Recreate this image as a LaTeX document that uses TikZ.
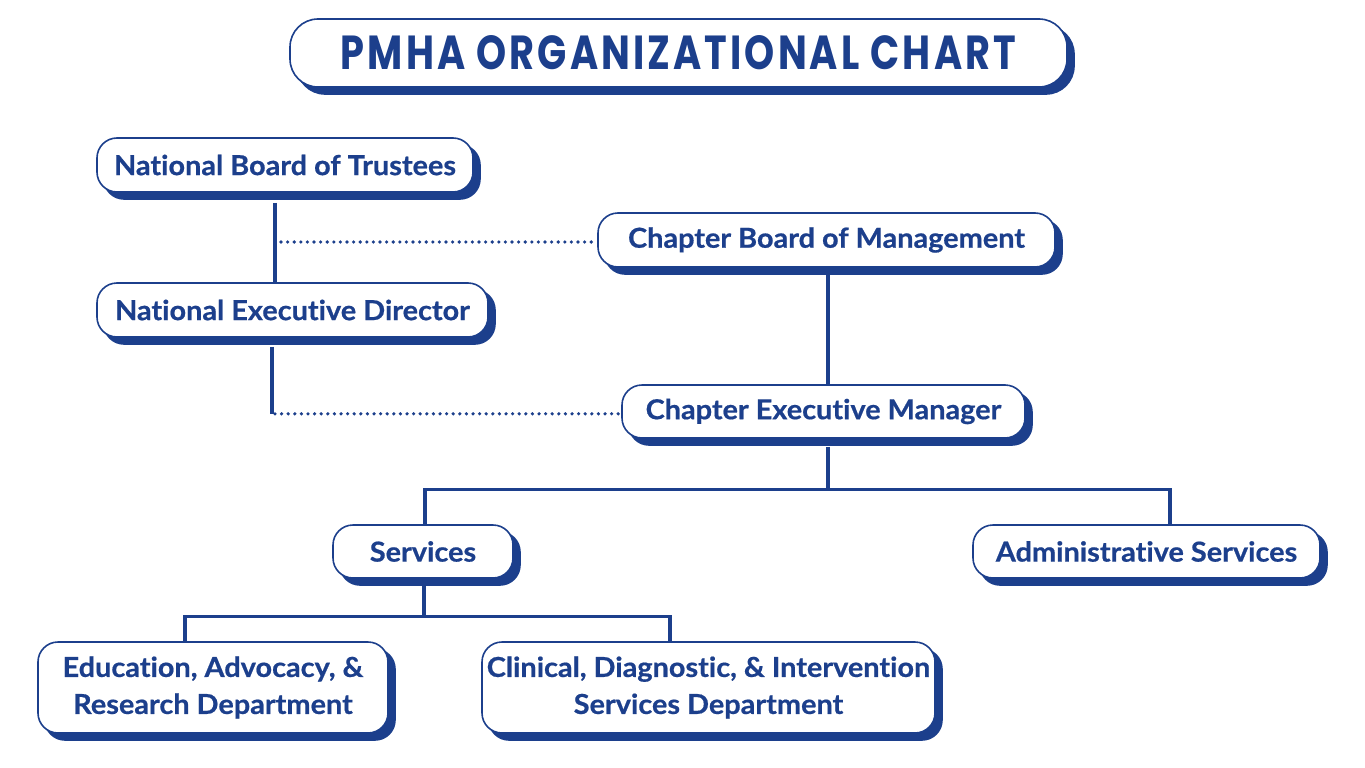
\documentclass[tikz,border=0pt]{standalone}
\usepackage{fontspec}
\setmainfont{Lato}[Ligatures=CommonOff, BoldFeatures={FakeStretch=1.05, FakeBold=0.6}]
\newfontfamily\titlefont{Poppins}[LetterSpace=8]
\usetikzlibrary{shadows,calc}
\definecolor{pblue}{RGB}{28,63,140}
\begin{document}
\begin{tikzpicture}[x=1pt,y=-1pt,
  box/.style={draw=pblue, line width=1.6pt, fill=white, rounded corners=20pt,
    text=pblue, font=\fontsize{27.5}{37}\selectfont\bfseries, align=center, inner sep=0pt,
    general shadow={fill=pblue, draw=pblue, shadow xshift=7pt, shadow yshift=-7pt}},
  link/.style={draw=pblue, line width=3.2pt},
  dots/.style={draw=pblue, line width=3.6pt, line cap=round, dash pattern=on 0pt off 6.6pt}]
\useasboundingbox[fill=white] (0,0) rectangle (1365,768);

\node[box, minimum width=777pt, minimum height=68pt, rounded corners=28pt] (title) at (678.5,53)
  {\resizebox{675pt}{34pt}{\titlefont\bfseries PMHA ORGANIZATIONAL CHART}};

\node[box, minimum width=376pt, minimum height=54pt] (nbt) at (285,165) {National Board of Trustees};
\node[box, minimum width=391pt, minimum height=54pt] (ned) at (292.5,310) {National Executive Director};
\node[box, minimum width=457pt, minimum height=54pt] (cbm) at (826.5,240) {Chapter Board of Management};
\node[box, minimum width=403pt, minimum height=53pt] (cem) at (823.5,411.5) {Chapter Executive Manager};
\node[box, minimum width=180pt, minimum height=53pt] (serv) at (423,551.5) {Services};
\node[box, minimum width=347pt, minimum height=53pt] (adm) at (1146.5,551.5) {Administrative Services};
\node[box, minimum width=350pt, minimum height=91pt] (edu) at (213,687.5) {Education, Advocacy, \&\\Research Department};
\node[box, minimum width=453pt, minimum height=91pt] (clin) at (708.5,687.5) {Clinical, Diagnostic, \& Intervention\\Services Department};

\draw[link] ($(nbt.south)+(-10,10)$) coordinate (v1) -- (v1 |- ned.north);
\draw[dots] ($(v1 |- cbm.west)+(6,2)$) -- ($(cbm.west)+(-2,2)$);

\draw[link] ($(ned.south)+(-20.5,9)$) coordinate (v2) -- ++(0,67) coordinate (v2b);
\draw[dots] ($(v2b)+(3,0)$) -- ($(v2b -| cem.west)+(-2,0)$);

\draw[link] ($(cbm.south)+(1.5,6)$) coordinate (v3) -- (v3 |- cem.north);

\draw[link] ($(cem.south)+(4.5,8)$) coordinate (v4) -- ++(0,43) coordinate (j1);
\draw[link] ($(serv.north)+(2,0)$) |- (j1) -| ($(adm.north)+(23.5,0)$);

\draw[link] ($(serv.south)+(1,7)$) coordinate (v5) -- ++(0,31) coordinate (j2);
\draw[link] ($(edu.north)+(-28,0)$) |- (j2) -| ($(clin.north)+(-38.5,0)$);
\end{tikzpicture}
\end{document}
